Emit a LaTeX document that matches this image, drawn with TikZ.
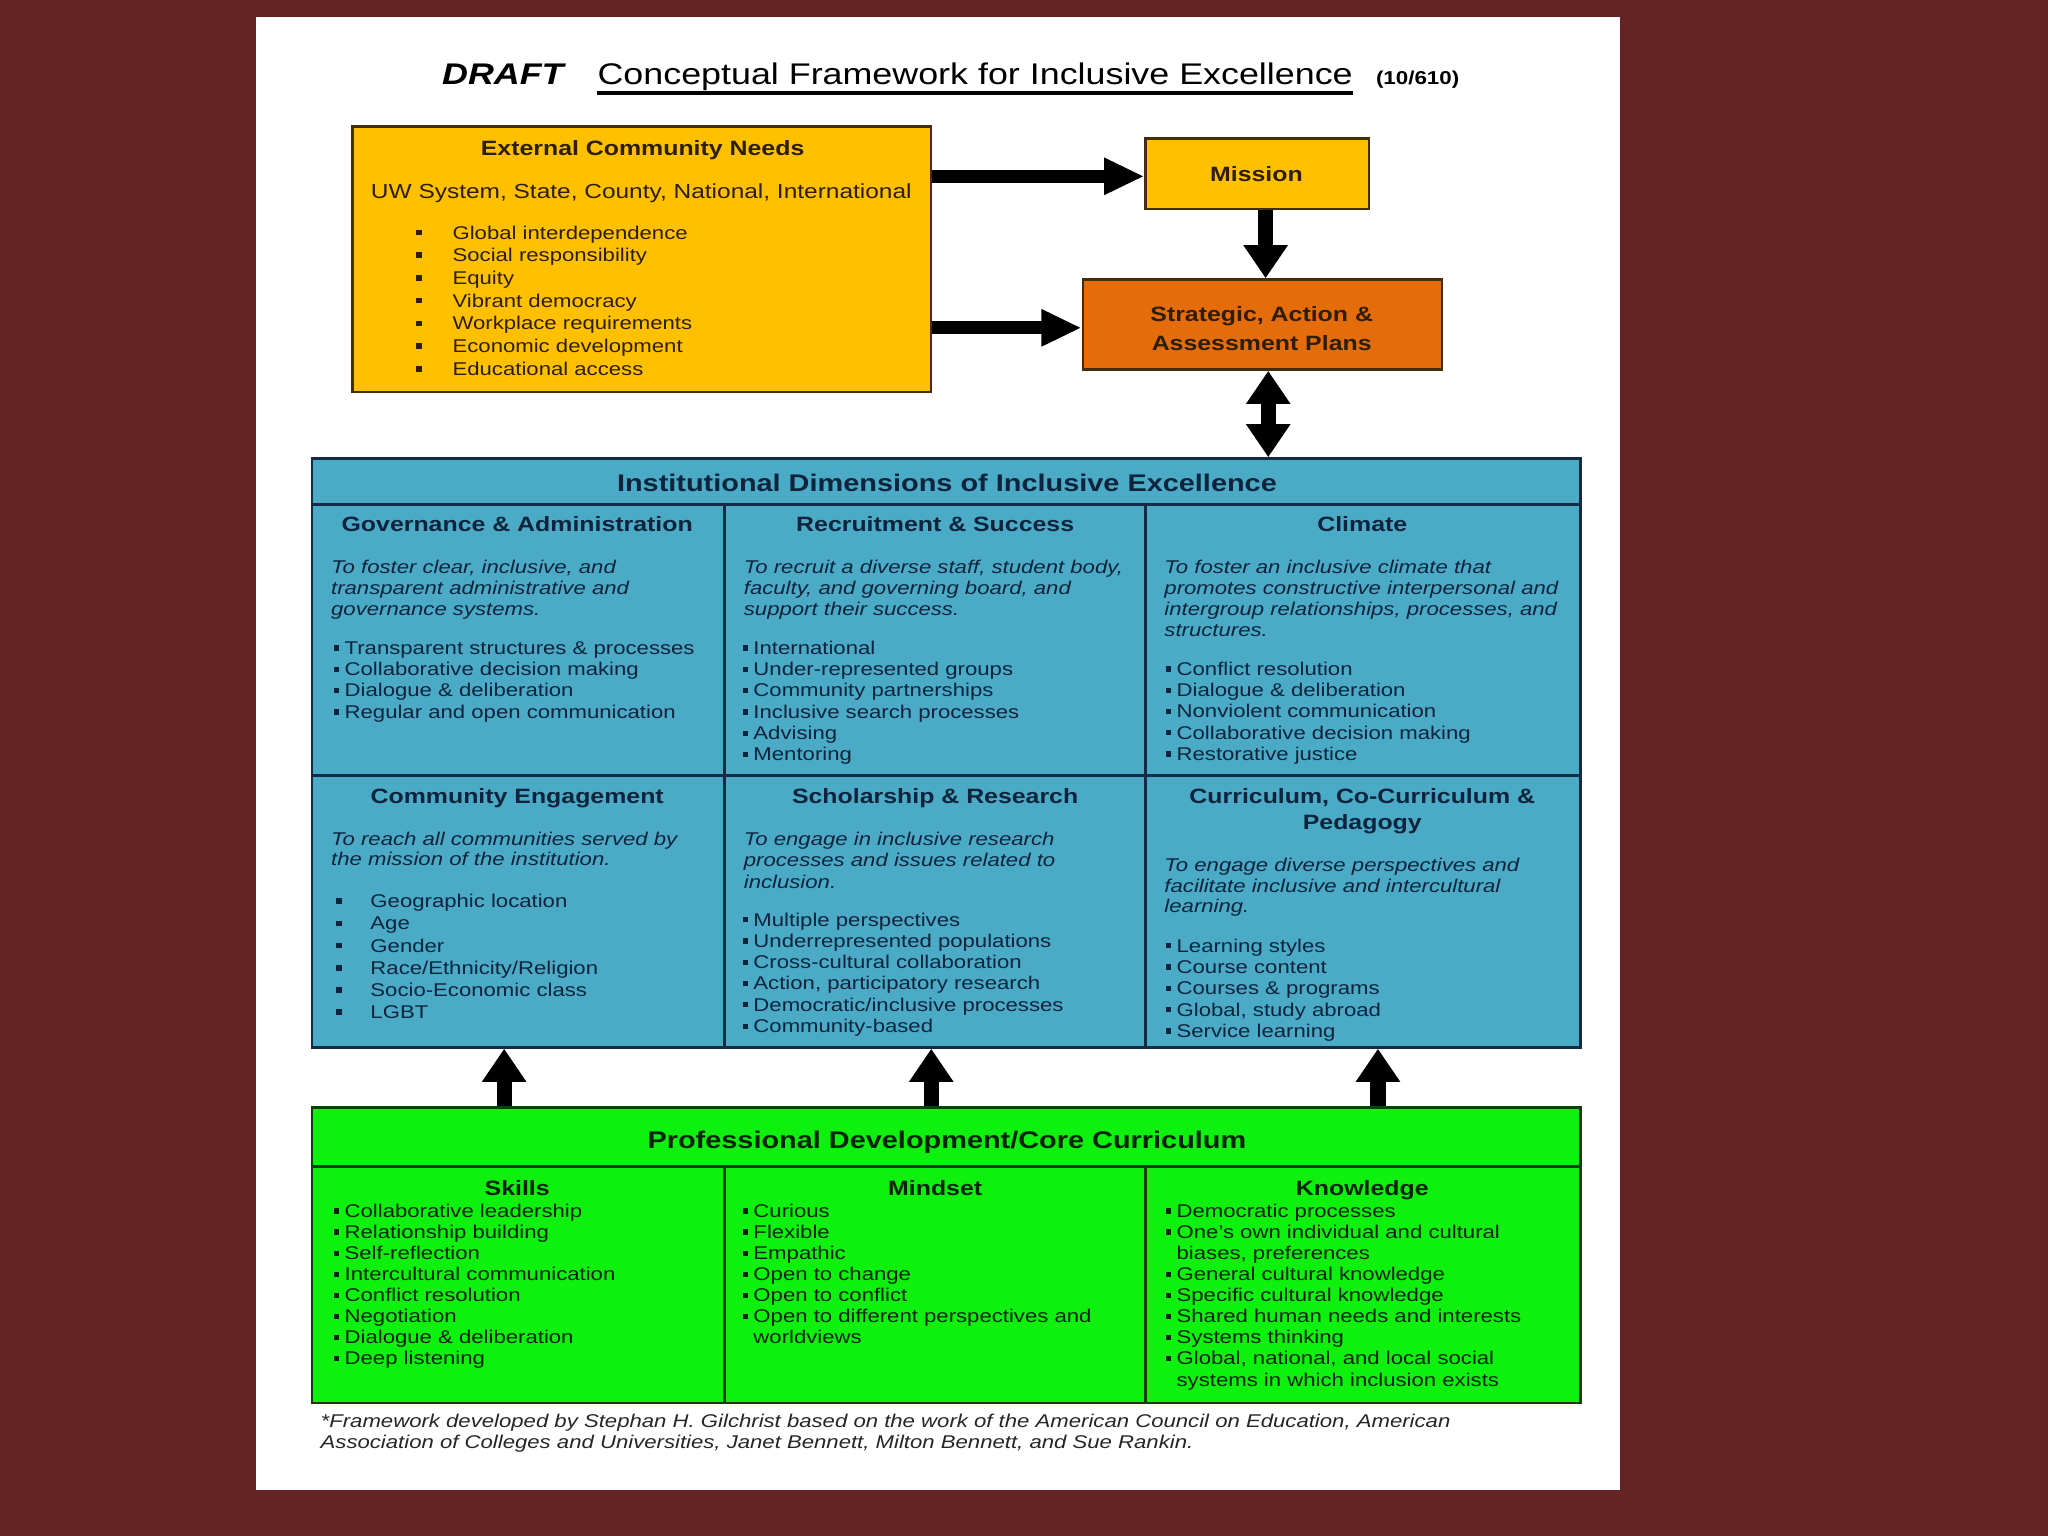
\documentclass[tikz,border=0pt]{standalone}
\usepackage{fontspec}
\setmainfont[FakeStretch=1.2]{Liberation Sans}
\usetikzlibrary{arrows.meta,fit}
\definecolor{bgmaroon}{RGB}{101,36,36}
\definecolor{gold}{RGB}{255,192,0}
\definecolor{orng}{RGB}{228,108,10}
\definecolor{steel}{RGB}{75,170,198}
\definecolor{lime}{RGB}{14,240,14}
\definecolor{navytxt}{RGB}{14,36,60}
\definecolor{navyline}{RGB}{22,42,70}
\definecolor{greentxt}{RGB}{8,36,8}
\definecolor{greenline}{RGB}{20,60,20}
\definecolor{browntxt}{RGB}{45,30,5}
\definecolor{brownline}{RGB}{70,45,10}
\newcommand\bul{\makebox[3.1pt][l]{\rule[1.05pt]{1.5pt}{1.5pt}}}
\newcommand\cont{\hspace*{3.1pt}}
\newcommand\wbul[1]{\makebox[#1][l]{\rule[1.05pt]{1.6pt}{1.6pt}}}
\newcommand\itemcol[5]{\foreach \t [count=\i] in {#5}{\node[txt] (#1\i) at (#2,{#3+#4*(\i-1)}) {\t};}}
\begin{document}
\begin{tikzpicture}[x=0.013061cm,y=-0.013061cm,
  box/.style={draw,line width=0.7pt,inner sep=0pt},
  txt/.style={inner sep=0pt,anchor=base west,yshift=-0.74pt},
  ctr/.style={inner sep=0pt,anchor=base,yshift=-0.74pt},
  bodyf/.style={font=\fontsize{5.25}{6}\selectfont},
  itf/.style={font=\itshape\fontsize{5.25}{6}\selectfont},
  hdf/.style={font=\bfseries\fontsize{5.9}{7}\selectfont},
  bighd/.style={font=\bfseries\fontsize{6.85}{8}\selectfont},
  varrow/.style={line width=4.3pt,-{Triangle[length=9.4pt,width=12pt]}},
  harrow/.style={line width=3.7pt,-{Triangle[length=11.4pt,width=9.8pt]}},
  darrow/.style={line width=4.3pt,{Triangle[length=9.4pt,width=12pt]}-{Triangle[length=9.4pt,width=12pt]}},
  divider/.style={line width=0.8pt}]
\fill[bgmaroon] (0,0) rectangle (1568,1176);
\fill[white] (196,13) rectangle (1240,1141);
\useasboundingbox (0,0) rectangle (1568,1176);

% title
\node[txt,font=\bfseries\itshape\fontsize{8.5}{10}\selectfont] (draft) at (338,63) {DRAFT};
\node[txt,font=\fontsize{8.5}{10}\selectfont] (title) at (457,63) {Conceptual Framework for Inclusive Excellence};
\draw[line width=1.1pt] ([yshift=-2.2pt]title.base west) -- ([yshift=-2.2pt]title.base east);
\node[txt,font=\bfseries\fontsize{5.3}{6}\selectfont] (date) at (1053,63) {(10/610)};

% external community needs
\node[box,fill=gold,draw=brownline,fit={(270,97) (713,300)}] (ext) {};
\begin{scope}[text=browntxt]
\node[ctr,hdf] (exth) at (492,117) {External Community Needs};
\node[ctr,font=\fontsize{5.8}{7}\selectfont] (extsub) at (491,150) {UW System, State, County, National, International};
\begin{scope}[bodyf]
\itemcol{extl}{318}{181}{17.4}{{\wbul{10.4pt}Global interdependence},{\wbul{10.4pt}Social responsibility},{\wbul{10.4pt}Equity},{\wbul{10.4pt}Vibrant democracy},{\wbul{10.4pt}Workplace requirements},{\wbul{10.4pt}Economic development},{\wbul{10.4pt}Educational access}}
\end{scope}
\end{scope}

% mission and plans
\node[box,fill=gold,draw=brownline,fit={(877,106) (1048,160)}] (mission) {};
\node[box,fill=orng,draw=brownline,fit={(829,214) (1104,283)}] (strat) {};
\begin{scope}[text=browntxt,hdf]
\node[ctr] (missiont) at (962,137) {Mission};
\node[ctr] (strat1) at (966,244) {Strategic, Action \&};
\node[ctr] (strat2) at (966,266) {Assessment Plans};
\end{scope}

\coordinate (h1) at (0,135);
\coordinate (h2) at (0,251);
\coordinate (v1) at (969,0);
\coordinate (v2) at (971,0);
\draw[harrow] (ext.east |- h1) -- (mission.west |- h1);
\draw[harrow] (ext.east |- h2) -- (strat.west |- h2);
\draw[varrow] (mission.south -| v1) -- (strat.north -| v1);

% institutional dimensions
\node[box,fill=steel,draw=navyline,fit={(239,351) (1210,802)}] (inst) {};
\draw[darrow] (strat.south -| v2) -- (inst.north -| v2);
\draw[divider,navyline] (239,386) -- (1210,386);
\draw[divider,navyline] (555,386) -- (555,802);
\draw[divider,navyline] (877,386) -- (877,802);
\draw[divider,navyline] (239,594) -- (1210,594);
\begin{scope}[text=navytxt]
\node[ctr,bighd] (insth) at (725,374) {Institutional Dimensions of Inclusive Excellence};
\begin{scope}[hdf]
\node[ctr] (govh) at (396,405) {Governance \& Administration};
\node[ctr] (rech) at (716,405) {Recruitment \& Success};
\node[ctr] (climh) at (1043,405) {Climate};
\node[ctr] (comh) at (396,613) {Community Engagement};
\node[ctr] (schh) at (716,613) {Scholarship \& Research};
\node[ctr] (curh1) at (1043,613) {Curriculum, Co-Curriculum \&};
\node[ctr] (curh2) at (1043,633) {Pedagogy};
\end{scope}
\begin{scope}[itf]
\itemcol{govi}{253}{437}{16}{{To foster clear, inclusive, and},{transparent administrative and},{governance systems.}}
\itemcol{reci}{569}{437}{16}{{To recruit a diverse staff, student body,},{faculty, and governing board, and},{support their success.}}
\itemcol{climi}{891}{437}{16}{{To foster an inclusive climate that},{promotes constructive interpersonal and},{intergroup relationships, processes, and},{structures.}}
\itemcol{comi}{253}{645}{16}{{To reach all communities served by},{the mission of the institution.}}
\itemcol{schi}{569}{645}{16.5}{{To engage in inclusive research},{processes and issues related to},{inclusion.}}
\itemcol{curi}{891}{665}{16}{{To engage diverse perspectives and},{facilitate inclusive and intercultural},{learning.}}
\end{scope}
\begin{scope}[bodyf]
\itemcol{govb}{255}{499}{16.3}{{\bul Transparent structures \& processes},{\bul Collaborative decision making},{\bul Dialogue \& deliberation},{\bul Regular and open communication}}
\itemcol{recb}{568}{499}{16.3}{{\bul International},{\bul Under-represented groups},{\bul Community partnerships},{\bul Inclusive search processes},{\bul Advising},{\bul Mentoring}}
\itemcol{climb}{892}{515}{16.3}{{\bul Conflict resolution},{\bul Dialogue \& deliberation},{\bul Nonviolent communication},{\bul Collaborative decision making},{\bul Restorative justice}}
\itemcol{comb}{257}{693}{17}{{\wbul{9.7pt}Geographic location},{\wbul{9.7pt}Age},{\wbul{9.7pt}Gender},{\wbul{9.7pt}Race/Ethnicity/Religion},{\wbul{9.7pt}Socio-Economic class},{\wbul{9.7pt}LGBT}}
\itemcol{schb}{568}{707}{16.3}{{\bul Multiple perspectives},{\bul Underrepresented populations},{\bul Cross-cultural collaboration},{\bul Action, participatory research},{\bul Democratic/inclusive processes},{\bul Community-based}}
\itemcol{curb}{892}{727}{16.3}{{\bul Learning styles},{\bul Course content},{\bul Courses \& programs},{\bul Global, study abroad},{\bul Service learning}}
\end{scope}
\end{scope}

% professional development
\node[box,fill=lime,draw=greenline,fit={(239,848) (1210,1074)}] (green) {};
\draw[divider,greenline] (239,893) -- (1210,893);
\draw[divider,greenline] (555,893) -- (555,1074);
\draw[divider,greenline] (877,893) -- (877,1074);
\coordinate (u1) at (386,0);
\coordinate (u2) at (713,0);
\coordinate (u3) at (1055,0);
\draw[varrow] (green.north -| u1) -- (inst.south -| u1);
\draw[varrow] (green.north -| u2) -- (inst.south -| u2);
\draw[varrow] (green.north -| u3) -- (inst.south -| u3);
\begin{scope}[text=greentxt]
\node[ctr,bighd] (greenh) at (725,877) {Professional Development/Core Curriculum};
\begin{scope}[hdf]
\node[ctr] (skh) at (396,913) {Skills};
\node[ctr] (mih) at (716,913) {Mindset};
\node[ctr] (knh) at (1043,913) {Knowledge};
\end{scope}
\begin{scope}[bodyf]
\itemcol{skb}{255}{930}{16.15}{{\bul Collaborative leadership},{\bul Relationship building},{\bul Self-reflection},{\bul Intercultural communication},{\bul Conflict resolution},{\bul Negotiation},{\bul Dialogue \& deliberation},{\bul Deep listening}}
\itemcol{mib}{568}{930}{16.15}{{\bul Curious},{\bul Flexible},{\bul Empathic},{\bul Open to change},{\bul Open to conflict},{\bul Open to different perspectives and},{\cont worldviews}}
\itemcol{knb}{892}{930}{16.15}{{\bul Democratic processes},{\bul One's own individual and cultural},{\cont biases, preferences},{\bul General cultural knowledge},{\bul Specific cultural knowledge},{\bul Shared human needs and interests},{\bul Systems thinking},{\bul Global, national, and local social},{\cont systems in which inclusion exists}}
\end{scope}
\end{scope}

% footnote
\begin{scope}[itf,text=black!85]
\node[txt] (fn1) at (245,1091) {*Framework developed by Stephan H. Gilchrist based on the work of the American Council on Education, American};
\node[txt] (fn2) at (245,1107) {Association of Colleges and Universities, Janet Bennett, Milton Bennett, and Sue Rankin.};
\end{scope}
\end{tikzpicture}
\end{document}
